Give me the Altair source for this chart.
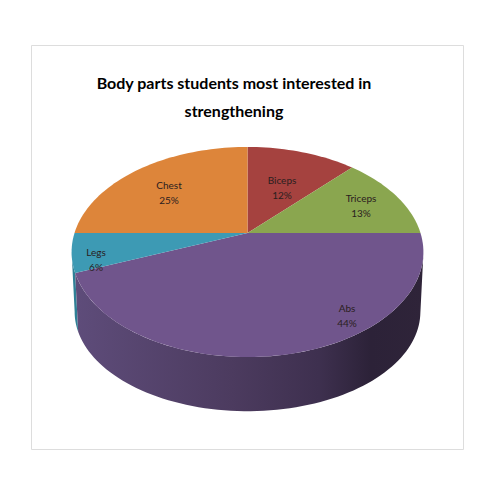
import math
import altair as alt
import pandas as pd

# ---- values
labels = ["Biceps", "Triceps", "Abs", "Legs", "Chest"]
shares = [12, 13, 44, 6, 25]
colors = ["#A5423F", "#8AA64F", "#70558C", "#3D9AB4", "#DD853A"]
side_colors = ["#6b2b29", "#5a6d33", "#4a3a5e", "#2f8096", "#9a5c28"]
title_lines = ["Body parts students most interested in", "strengthening"]

# ---- layout: frame in page pixels, tilted-pie projection
FX0, FX1, FY0, FY1 = 31, 463, 45, 449
CX, CY, R, B, K = 247.5, 233, 173, 101.6, 0.181
R2, B2, DEPTH = 170, 96, 61
label_xy = {"Biceps": (282, 181), "Triceps": (361, 199), "Abs": (347, 309), "Legs": (96, 253), "Chest": (169, 186)}


def top(theta):
    u, v = math.sin(theta), math.cos(theta)
    d = 1 + K * v
    return CX + R * u / d, CY - B * v / d


def bottom(theta):
    u, v = math.sin(theta), math.cos(theta)
    d = 1 + K * v
    return CX + R2 * u / d, CY + DEPTH - B2 * v / d


xs = alt.Scale(domain=[FX0, FX1], range=[0, FX1 - FX0])
ys = alt.Scale(domain=[FY0, FY1], range=[0, FY1 - FY0])
X = alt.X("x:Q", scale=xs, axis=None)
Y = alt.Y("y:Q", scale=ys, axis=None)


def polygon(points, fill):
    df = pd.DataFrame(points, columns=["x", "y"])
    df["i"] = range(len(df))
    return alt.Chart(df).mark_line(fill=fill, stroke=None, strokeWidth=0).encode(
        x=X, y=Y, order="i:Q"
    )


layers = []
starts = [sum(shares[:i]) for i in range(len(shares))]
rad = lambda p: 2 * math.pi * p / 100

# side wall: abs part then legs sliver, drawn before the top face
abs_i = labels.index("Abs")
legs_i = labels.index("Legs")
a0, a1 = rad(starts[abs_i]) + 0.22, rad(starts[abs_i] + shares[abs_i])
l1 = rad(starts[legs_i] + shares[legs_i]) - 0.18


def wall(t0, t1, fill):
    n = 80
    ts = [t0 + (t1 - t0) * i / n for i in range(n + 1)]
    return polygon([top(t) for t in ts] + [bottom(t) for t in reversed(ts)], fill)


grad = alt.Gradient(
    gradient="linear", x1=0, x2=1, y1=0, y2=0,
    stops=[
        alt.GradientStop(color="#5e4c7a", offset=0),
        alt.GradientStop(color="#4c3b5f", offset=0.45),
        alt.GradientStop(color="#3e304f", offset=0.7),
        alt.GradientStop(color="#2c2238", offset=0.85),
        alt.GradientStop(color="#2f2439", offset=1),
    ],
)
layers.append(wall(a1, l1, side_colors[legs_i]))
layers.append(wall(a0, a1, grad))

# top face
for s, sh, c in zip(starts, shares, colors):
    n = max(8, int(sh * 2))
    pts = [(CX, CY)] + [top(rad(s + sh * i / n)) for i in range(n + 1)] + [(CX, CY)]
    layers.append(polygon(pts, c))

# labels
rows = []
for name, sh in zip(labels, shares):
    x, y = label_xy[name]
    rows.append({"x": x, "y": y, "t": name})
    rows.append({"x": x, "y": y + 14.5, "t": f"{sh}%"})
layers.append(
    alt.Chart(pd.DataFrame(rows))
    .mark_text(font="Lato", fontSize=10, color="#2a2020", align="center", baseline="middle")
    .encode(x=X, y=Y, text="t:N")
)

# title
tdf = pd.DataFrame({"x": [234, 234], "y": [84, 112], "t": title_lines})
layers.append(
    alt.Chart(tdf)
    .mark_text(font="Lato", fontSize=16, fontWeight="bold", color="#000000", align="center", baseline="middle")
    .encode(x=X, y=Y, text="t:N")
)

chart = (
    alt.layer(*layers)
    .properties(
        width=FX1 - FX0,
        height=FY1 - FY0,
        padding={"left": FX0 - 8, "top": FY0 - 8, "right": 10, "bottom": 10},
        autosize=alt.AutoSizeParams(type="none"),
    )
    .configure_view(stroke="#7a7a7a", strokeWidth=1, fill="white")
    .configure(background="white")
)
chart.save("out.html", embed_options={"renderer": "svg", "actions": False})
